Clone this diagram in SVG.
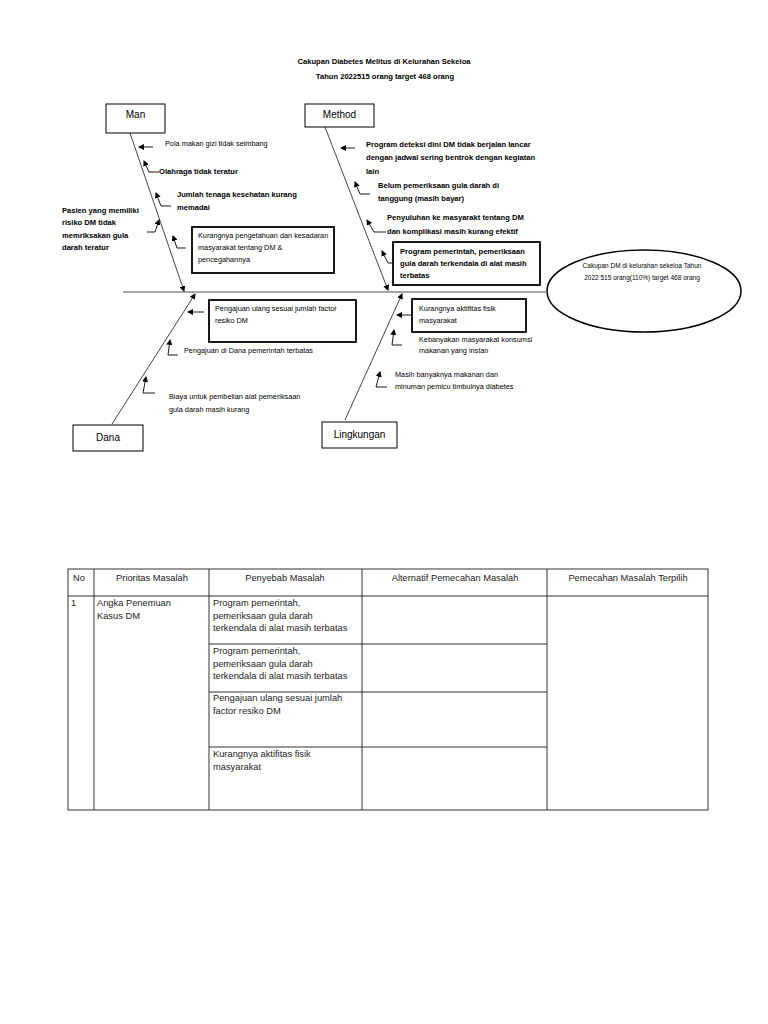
<svg xmlns="http://www.w3.org/2000/svg" width="768" height="1024" viewBox="0 0 768 1024">
<defs>
<marker id="ah" markerWidth="6" markerHeight="6" refX="5" refY="3" orient="auto" markerUnits="userSpaceOnUse">
<path d="M0,0 L6,3 L0,6 Z" fill="#000"/>
</marker>
<style>
.t{font-family:"Liberation Sans",Arial,sans-serif;fill:#000}
.b{font-weight:bold;font-size:7.6px}
.n{font-size:7.3px}
.lbl{font-size:10px;text-anchor:middle}
.box{fill:#fff;stroke:#000;stroke-width:1}
.tbox{fill:#fff;stroke:#000;stroke-width:1.8}
.bone{stroke:#444;stroke-width:1;fill:none}
.arr{stroke:#000;stroke-width:0.9;fill:none;marker-end:url(#ah)}
.tt{font-family:"Liberation Sans",Arial,sans-serif;font-size:9.3px;fill:#222}
.tl{stroke:#333;stroke-width:1;fill:none}
</style>
</defs>
<rect width="768" height="1024" fill="#fff"/>

<g id="title">
<text class="t b" x="384" y="64" text-anchor="middle">Cakupan Diabetes Melitus di Kelurahan Sekeloa</text>
<text class="t b" x="385" y="79" text-anchor="middle">Tahun 2022515 orang target 468 orang</text>
</g>

<g id="connectors">
<line x1="123" y1="292" x2="546" y2="292" stroke="#888" stroke-width="1.6"/>
<line class="bone" x1="130" y1="133" x2="184" y2="291" marker-end="url(#ah)"/>
<line class="bone" x1="325" y1="127" x2="388" y2="290" marker-end="url(#ah)"/>
<line class="bone" x1="112" y1="424" x2="195" y2="294" marker-end="url(#ah)"/>
<line class="bone" x1="345" y1="420" x2="402" y2="294" marker-end="url(#ah)"/>
<!-- Man causes -->
<line class="arr" x1="153" y1="147" x2="139" y2="147"/>
<polyline class="arr" points="159,172 149,172 144,161"/>
<polyline class="arr" points="171,206 161,206 156,193"/>
<polyline class="arr" points="147,232 155,232 159,220"/>
<polyline class="arr" points="186,248 177,248 173,236"/>
<!-- Method causes -->
<line class="arr" x1="355" y1="148" x2="341" y2="148"/>
<polyline class="arr" points="370,194 360,194 355,182"/>
<polyline class="arr" points="386,232 374,232 367,220"/>
<polyline class="arr" points="397,263 388,263 382,251"/>
<!-- Dana causes -->
<line class="arr" x1="204" y1="312" x2="188" y2="312"/>
<polyline class="arr" points="178,355 168,355 170,340"/>
<polyline class="arr" points="155,393 143,393 146,377"/>
<!-- Lingkungan causes -->
<line class="arr" x1="412" y1="315" x2="397" y2="315"/>
<polyline class="arr" points="402,345 392,345 394,330"/>
<polyline class="arr" points="387,387 376,387 380,372"/>
</g>

<g id="man">
<rect class="box" x="106" y="104" width="59" height="29"/>
<text class="t lbl" x="135.5" y="118">Man</text>
</g>
<g id="method">
<rect class="box" x="305" y="104" width="69" height="23"/>
<text class="t lbl" x="339.5" y="118">Method</text>
</g>
<g id="dana">
<rect class="box" x="73" y="425" width="70" height="26"/>
<text class="t lbl" x="108" y="441">Dana</text>
</g>
<g id="lingkungan">
<rect class="box" x="322" y="422" width="75" height="26"/>
<text class="t lbl" x="359.5" y="438">Lingkungan</text>
</g>
<g id="effect">
<ellipse cx="644" cy="291" rx="97" ry="41" fill="#fff" stroke="#000" stroke-width="1.5"/>
<text class="t" font-size="6.5" x="642" y="268" text-anchor="middle">Cakupan DM di kelurahan sekeloa Tahun</text>
<text class="t" font-size="6.5" x="642" y="280" text-anchor="middle">2022 515 orang(110%) target 468 orang</text>
</g>

<g id="man-causes">
<text class="t n" x="165" y="146">Pola makan gizi tidak seimbang</text>
<text class="t b" x="159" y="174">Olahraga tidak teratur</text>
<text class="t b" x="177" y="197">Jumlah tenaga kesehatan kurang</text>
<text class="t b" x="177" y="210">memadai</text>
<text class="t b" x="62" y="213">Pasien yang memiliki</text>
<text class="t b" x="62" y="225">risiko DM tidak</text>
<text class="t b" x="62" y="238">memriksakan gula</text>
<text class="t b" x="62" y="250">darah teratur</text>
</g>
<g id="man-box">
<rect class="tbox" x="192" y="227" width="142" height="46"/>
<text class="t n" x="198" y="238">Kurangnya pengetahuan dan kesadaran</text>
<text class="t n" x="198" y="250">masyarakat tentang DM &amp;</text>
<text class="t n" x="198" y="262">pencegahannya</text>
</g>

<g id="method-causes">
<text class="t b" x="366" y="147">Program deteksi dini DM tidak berjalan lancar</text>
<text class="t b" x="366" y="160">dengan jadwal sering bentrok dengan kegiatan</text>
<text class="t b" x="366" y="174">lain</text>
<text class="t b" x="378" y="188">Belum pemeriksaan gula darah di</text>
<text class="t b" x="378" y="201">tanggung (masih bayar)</text>
<text class="t b" x="387" y="220">Penyuluhan ke masyarakt tentang DM</text>
<text class="t b" x="387" y="234">dan komplikasi masih kurang efektif</text>
</g>
<g id="method-box">
<rect class="tbox" x="393" y="242" width="147" height="43"/>
<text class="t b" x="400" y="254">Program pemerintah, pemeriksaan</text>
<text class="t b" x="400" y="266">gula darah terkendala di alat masih</text>
<text class="t b" x="400" y="278">terbatas</text>
</g>

<g id="dana-box">
<rect class="tbox" x="209" y="300" width="147" height="42"/>
<text class="t n" x="215" y="311">Pengajuan ulang sesuai jumlah factor</text>
<text class="t n" x="215" y="323">resiko DM</text>
</g>
<g id="dana-causes">
<text class="t n" x="184" y="353">Pengajuan di Dana pemerintah terbatas</text>
<text class="t n" x="169" y="399">Biaya untuk pembelian alat pemeriksaan</text>
<text class="t n" x="169" y="412">gula darah masih kurang</text>
</g>

<g id="lingkungan-box">
<rect class="tbox" x="412" y="299" width="114" height="33"/>
<text class="t n" x="419" y="311">Kurangnya aktifitas fisik</text>
<text class="t n" x="419" y="323">masyarakat</text>
</g>
<g id="lingkungan-causes">
<text class="t n" x="419" y="342">Kebanyakan masyarakat konsumsi</text>
<text class="t n" x="419" y="353">makanan yang instan</text>
<text class="t n" x="395" y="377">Masih banyaknya makanan dan</text>
<text class="t n" x="395" y="389">minuman pemicu timbulnya diabetes</text>
</g>

<g id="table">
<rect class="tl" x="68" y="569" width="640" height="241"/>
<line class="tl" x1="68" y1="596" x2="708" y2="596"/>
<line class="tl" x1="94" y1="569" x2="94" y2="810"/>
<line class="tl" x1="209" y1="569" x2="209" y2="810"/>
<line class="tl" x1="362" y1="569" x2="362" y2="810"/>
<line class="tl" x1="547" y1="569" x2="547" y2="810"/>
<line class="tl" x1="209" y1="644" x2="547" y2="644"/>
<line class="tl" x1="209" y1="692" x2="547" y2="692"/>
<line class="tl" x1="209" y1="747" x2="547" y2="747"/>
<text class="tt" x="73" y="581">No</text>
<text class="tt" x="152" y="581" text-anchor="middle">Prioritas Masalah</text>
<text class="tt" x="285" y="581" text-anchor="middle">Penyebab Masalah</text>
<text class="tt" x="455" y="581" text-anchor="middle">Alternatif Pemecahan Masalah</text>
<text class="tt" x="628" y="581" text-anchor="middle">Pemecahan Masalah Terpilih</text>
<text class="tt" x="71" y="606">1</text>
<text class="tt" x="97" y="606">Angka Penemuan</text>
<text class="tt" x="97" y="619">Kasus DM</text>
<text class="tt" x="213" y="606">Program pemerintah,</text>
<text class="tt" x="213" y="619">pemeriksaan gula darah</text>
<text class="tt" x="213" y="631">terkendala di alat masih terbatas</text>
<text class="tt" x="213" y="654">Program pemerintah,</text>
<text class="tt" x="213" y="667">pemeriksaan gula darah</text>
<text class="tt" x="213" y="679">terkendala di alat masih terbatas</text>
<text class="tt" x="213" y="701">Pengajuan ulang sesuai jumlah</text>
<text class="tt" x="213" y="714">factor resiko DM</text>
<text class="tt" x="213" y="757">Kurangnya aktifitas fisik</text>
<text class="tt" x="213" y="770">masyarakat</text>
</g>
</svg>
